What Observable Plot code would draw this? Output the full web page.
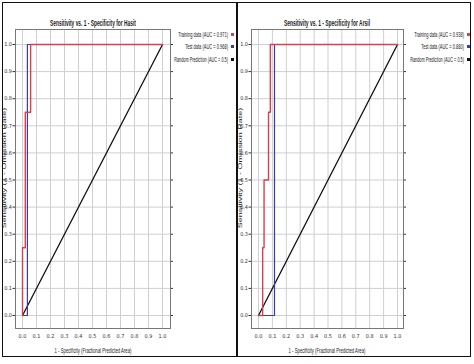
<!DOCTYPE html>
<html><head><meta charset="utf-8">
<script src="https://cdn.jsdelivr.net/npm/d3@7"></script>
<script src="https://cdn.jsdelivr.net/npm/@observablehq/plot@0.6"></script>
<style>
body{margin:0;background:#fff;font-family:"Liberation Sans",Arial,sans-serif;}
#wrap{position:relative;width:474px;height:364px;overflow:hidden;background:#fff;}
.box{position:absolute;left:2px;top:2px;width:467px;height:353px;border:1.5px solid #111;}
.divider{position:absolute;left:236px;top:2px;width:1.5px;height:355px;background:#111;}
.panel{position:absolute;top:0;width:236px;height:360px;}
.panel svg{position:absolute;left:0;top:0;}
.fit{position:absolute;white-space:nowrap;transform-origin:0 0;line-height:1;color:#222;}
.sq{position:absolute;width:3px;height:3px;}
</style></head><body><div id="wrap"><div class="box"></div><div class="divider"></div></div>
<script>
// ---- data ----
const xTicks = [0.0,0.1,0.2,0.3,0.4,0.5,0.6,0.7,0.8,0.9,1.0];
const yTicks = [0.0,0.1,0.2,0.3,0.4,0.5,0.6,0.7,0.8,0.9,1.0];
const seriesNames = ["Training data", "Test data", "Random Prediction"];
const hasitAUC = ["0.971", "0.968", "0.5"];
const arsilAUC = ["0.938", "0.880", "0.5"];
const randomLine = [[0,0],[1,1]];
const hasitTrain = [[0,0],[0,0.25],[0.02,0.25],[0.02,0.75],[0.058,0.75],[0.058,1],[1,1]];
const hasitTest  = [[0,0],[0.035,0],[0.035,1],[1,1]];
const arsilTrain = [[0,0],[0.03,0],[0.03,0.25],[0.04,0.25],[0.04,0.5],[0.072,0.5],[0.072,0.75],[0.085,0.75],[0.085,1],[1,1]];
const arsilTest  = [[0,0],[0.115,0],[0.115,1],[1,1]];
const titles = ["Sensitivity vs. 1 - Specificity for Hasit", "Sensitivity vs. 1 - Specificity for Arsil"];
const xLabel = "1 - Specificity (Fractional Predicted Area)";
const yLabel = "Sensitivity (1 - Omission Rate)";

const RED = "#d8404e", BLUE = "#3a3ab0", BLACK = "#111";
const fmt = d3.format(".1f");
const wrap = document.getElementById("wrap");

function fit(parent, text, o) {
  const s = document.createElement("span");
  s.className = "fit";
  s.textContent = text;
  s.style.fontSize = (o.size || 7) + "px";
  s.style.fontWeight = o.weight || "normal";
  s.style.left = o.x + "px";
  s.style.top = o.y + "px";
  parent.appendChild(s);
  const w = s.offsetWidth;
  const k = o.w / w;
  const tx = o.anchor === "end" ? "-100%" : (o.anchor === "start" ? "0" : "-50%");
  s.style.transform = (o.rotate ? "rotate(-90deg) " : "") + `scaleX(${k}) translate(${tx},-50%)`;
  return s;
}

function panel(left, cfg) {
  const div = document.createElement("div");
  div.className = "panel";
  div.style.left = left + "px";
  wrap.appendChild(div);
  const chart = Plot.plot({
    width: 236, height: 360,
    marginLeft: 15, marginRight: cfg.mr, marginTop: 29, marginBottom: 32,
    insetLeft: 7, insetRight: cfg.ir, insetTop: 15, insetBottom: 13,
    x: {domain: [0, 1]}, y: {domain: [0, 1]},
    style: {fontSize: "5.5px", fontFamily: "'Liberation Sans Narrow', 'DejaVu Sans Condensed', 'Arial Narrow', sans-serif", color: "#333", background: "transparent"},
    marks: [
      Plot.gridX(xTicks, {stroke: "#cfcfcf", strokeOpacity: 1}),
      Plot.gridY(yTicks, {stroke: "#cfcfcf", strokeOpacity: 1}),
      Plot.frame({stroke: "#777"}),
      Plot.axisX(xTicks, {tickSize: 0, tickPadding: 6, tickFormat: fmt, label: null}),
      Plot.axisY(yTicks, {tickSize: 2.5, tickPadding: 1, tickFormat: fmt, label: null}),
      Plot.axisY(yTicks, {anchor: "right", tickSize: 2, tickFormat: () => "", label: null}),
      Plot.line(randomLine, {x: d => d[0], y: d => d[1], stroke: BLACK, strokeWidth: 1.3}),
      Plot.line(cfg.test, {x: d => d[0], y: d => d[1], stroke: BLUE, strokeWidth: 1.2}),
      Plot.line(cfg.train, {x: d => d[0], y: d => d[1], stroke: RED, strokeWidth: 1.4})
    ]
  });
  div.appendChild(chart);
  const fc = (15 + (236 - cfg.mr)) / 2;
  fit(div, cfg.title, {x: fc, y: 23, w: 86, size: 9, weight: "bold"});
  fit(div, xLabel, {x: fc, y: 350, w: 77, size: 7});
  fit(div, yLabel, {x: 3.5, y: 168, w: 120, size: 5, rotate: true});
  const colors = [RED, BLUE, BLACK];
  const widths = [50, 43, 54];
  const ys = [35, 47, 60];
  seriesNames.forEach((n, i) => {
    fit(div, `${n} (AUC = ${cfg.auc[i]})`, {x: cfg.lx, y: ys[i], w: widths[i], size: 7.5, anchor: "end"});
    const q = document.createElement("div");
    q.className = "sq";
    q.style.background = colors[i];
    q.style.left = (cfg.lx + 2.5) + "px";
    q.style.top = (ys[i] - 2) + "px";
    div.appendChild(q);
  });
}

panel(0, {title: titles[0], train: hasitTrain, test: hasitTest, auc: hasitAUC, mr: 66, ir: 8, lx: 228});
panel(236, {title: titles[1], train: arsilTrain, test: arsilTest, auc: arsilAUC, mr: 69, ir: 6, lx: 228});
</script></body></html>
